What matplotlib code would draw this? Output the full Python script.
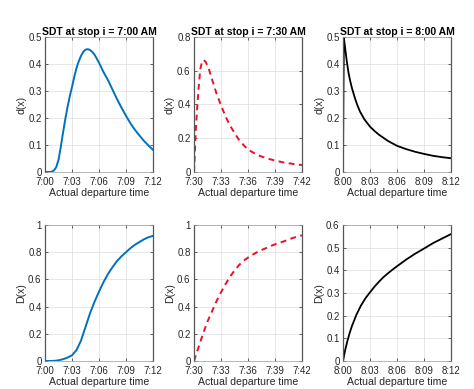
import numpy as np
from matplotlib import pyplot as plt

plt.rcParams['font.family'] = ['Liberation Sans', 'DejaVu Sans']

# minutes after the scheduled departure time
t1 = [0, 0.5, 0.75, 1.0, 1.25, 1.5, 1.75, 2.0, 2.25, 2.5, 2.75, 3.0, 3.25,
      3.5, 3.75, 4.0, 4.25, 4.5, 4.75, 5.0, 5.25, 5.5, 6.0, 6.5, 7.0, 7.5,
      8.0, 8.5, 9.0, 9.5, 10.0, 10.5, 11.0, 11.5, 12.0]
d1 = [0, 0, 0.001, 0.006, 0.018, 0.045, 0.092, 0.145, 0.195, 0.24, 0.28,
      0.315, 0.352, 0.385, 0.41, 0.43, 0.445, 0.453, 0.455, 0.452, 0.445,
      0.435, 0.405, 0.37, 0.34, 0.305, 0.27, 0.238, 0.208, 0.18, 0.156,
      0.135, 0.115, 0.098, 0.082]
t1c = [0, 0.5, 1.0, 1.5, 2.0, 2.5, 3.0, 3.5, 4.0, 4.5, 5.0, 5.5, 6.0, 6.5,
       7.0, 7.5, 8.0, 8.5, 9.0, 9.5, 10.0, 10.5, 11.0, 11.5, 12.0]
D1 = [0, 0, 0.001, 0.005, 0.013, 0.025, 0.042, 0.08, 0.15, 0.25, 0.35,
      0.435, 0.51, 0.58, 0.64, 0.69, 0.735, 0.77, 0.80, 0.83, 0.855, 0.875,
      0.895, 0.91, 0.92]

t2 = [0, 0.1, 0.2, 0.33, 0.5, 0.7, 0.9, 1.07, 1.3, 1.63, 2.0, 2.5, 3.0,
      3.5, 4.0, 4.5, 5.0, 5.5, 6.0, 7.0, 8.0, 9.0, 10.0, 11.0, 12.0]
d2 = [0, 0.12, 0.25, 0.36, 0.49, 0.61, 0.655, 0.664, 0.652, 0.614, 0.55,
      0.465, 0.395, 0.33, 0.275, 0.232, 0.19, 0.16, 0.133, 0.102, 0.082,
      0.068, 0.056, 0.048, 0.041]
t2c = [0, 0.5, 1.0, 1.5, 2.0, 2.5, 3.0, 3.5, 4.0, 4.5, 5.0, 5.5, 6.0, 6.5,
       7.0, 7.5, 8.0, 8.5, 9.0, 9.5, 10.0, 10.5, 11.0, 11.5, 12.0]
D2 = [0, 0.1, 0.2, 0.29, 0.365, 0.44, 0.505, 0.565, 0.62, 0.665, 0.705,
      0.737, 0.76, 0.781, 0.8, 0.816, 0.83, 0.845, 0.858, 0.87, 0.88, 0.893,
      0.905, 0.915, 0.924]

t3 = [0, 0.05, 0.1, 0.2, 0.4, 0.6, 0.8, 1.0, 1.33, 1.6, 1.9, 2.4, 3.0, 3.5,
      4.0, 5.0, 6.0, 7.0, 8.0, 9.0, 10.0, 11.0, 12.0]
d3 = [0, 0.3, 0.495, 0.47, 0.415, 0.37, 0.337, 0.31, 0.273, 0.247, 0.223,
      0.194, 0.168, 0.152, 0.138, 0.115, 0.097, 0.085, 0.075, 0.067, 0.06,
      0.055, 0.051]
t3c = [0, 0.25, 0.5, 0.75, 1.0, 1.5, 2.0, 2.5, 3.0, 3.5, 4.0, 4.5, 5.0,
       5.5, 6.0, 7.0, 8.0, 9.0, 10.0, 11.0, 12.0]
D3 = [0, 0.05, 0.09, 0.125, 0.155, 0.205, 0.245, 0.277, 0.303, 0.328, 0.35,
      0.37, 0.387, 0.403, 0.418, 0.447, 0.473, 0.496, 0.52, 0.54, 0.56]

titles = ["SDT at stop i = 7:00 AM", "SDT at stop i = 7:30 AM",
          "SDT at stop i = 8:00 AM"]
xticks = [0, 3, 6, 9, 12]
xlabels = [["7:00", "7:03", "7:06", "7:09", "7:12"],
           ["7:30", "7:33", "7:36", "7:39", "7:42"],
           ["8:00", "8:03", "8:06", "8:09", "8:12"]]
ylims_d = [0.5, 0.8, 0.5]
yticks_d = [[0, 0.1, 0.2, 0.3, 0.4, 0.5], [0, 0.2, 0.4, 0.6, 0.8],
            [0, 0.1, 0.2, 0.3, 0.4, 0.5]]
ylims_D = [1, 1, 0.6]
yticks_D = [[0, 0.2, 0.4, 0.6, 0.8, 1], [0, 0.2, 0.4, 0.6, 0.8, 1],
            [0, 0.1, 0.2, 0.3, 0.4, 0.5, 0.6]]

styles = [dict(color=(0, 0.447, 0.741), linestyle="-", linewidth=1.4),
          dict(color="#e8102a", linestyle=(0, (3.0, 2.3)), linewidth=1.4),
          dict(color="black", linestyle="-", linewidth=1.3)]

fig = plt.figure(figsize=(4.74, 3.89), dpi=100)
lefts = [45 / 474, 194 / 474, 343 / 474]
w = 108 / 474


def style_axes(ax, i, ylim, yt, ylab):
    ax.set_xlim(0, 12)
    ax.set_ylim(0, ylim)
    ax.set_xticks(xticks)
    ax.set_xticklabels(xlabels[i])
    ax.set_yticks(yt)
    ax.set_yticklabels(["%g" % v for v in yt])
    ax.grid(True, color="#e3e3e3", linewidth=0.6)
    ax.set_axisbelow(True)
    ax.tick_params(direction="in", length=2, width=0.5, labelsize=7,
                   colors="#262626", top=True, right=True, pad=2.5)
    ax.tick_params(axis="x", pad=3.5)
    for side in ["left", "right"]:
        ax.spines[side].set_color("#555555")
        ax.spines[side].set_linewidth(0.9)
    for side in ["top", "bottom"]:
        ax.spines[side].set_color("#9a9a9a")
        ax.spines[side].set_linewidth(0.5)
    ax.set_xlabel("Actual departure time", fontsize=7.6, labelpad=0.8,
                  color="#262626")
    ax.set_ylabel(ylab, fontsize=7.6, labelpad=1.5, color="#262626")


top_d = [(t1, d1), (t2, d2), (t3, d3)]
bot_D = [(t1c, D1), (t2c, D2), (t3c, D3)]

for i in range(3):
    ax = fig.add_axes([lefts[i], 1 - 172 / 389, w, 135 / 389])
    ax.plot(top_d[i][0], top_d[i][1], **styles[i])
    style_axes(ax, i, ylims_d[i], yticks_d[i], "d(x)")
    ax.set_title(titles[i], fontsize=7.5, fontweight="bold", pad=1.5)

    ax = fig.add_axes([lefts[i], 1 - 361 / 389, w, 136 / 389])
    ax.plot(bot_D[i][0], bot_D[i][1], **styles[i])
    style_axes(ax, i, ylims_D[i], yticks_D[i], "D(x)")

plt.savefig("out.png", dpi=100)
